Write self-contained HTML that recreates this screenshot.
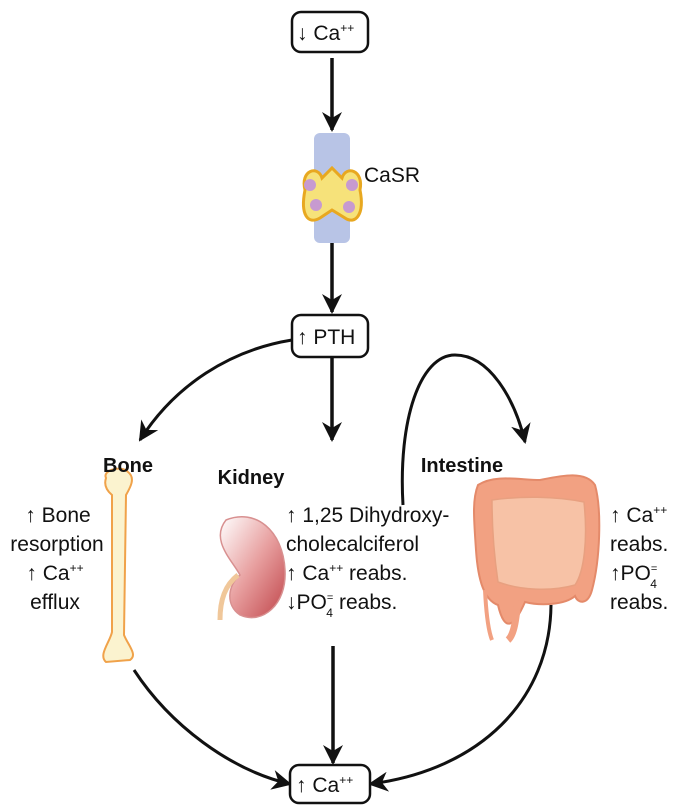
<!DOCTYPE html>
<html><head><meta charset="utf-8"><style>
html,body{margin:0;padding:0;background:#fff}
svg{display:block}
text{font-family:"Liberation Sans",sans-serif;fill:#111}
</style></head><body>
<svg width="685" height="812" viewBox="0 0 685 812" xmlns="http://www.w3.org/2000/svg">
<defs>
<marker id="ah" viewBox="0 0 20 20" refX="18" refY="10" markerWidth="20" markerHeight="20" markerUnits="userSpaceOnUse" orient="auto">
<path d="M0,0 L20,10 L0,20 L6,10 Z" fill="#111"/>
</marker>
<linearGradient id="kid" x1="0" y1="0" x2="1" y2="1"><stop offset="0" stop-color="#fff"/><stop offset="0.5" stop-color="#e8a0a0"/><stop offset="1" stop-color="#c0454a"/></linearGradient>
</defs>
<g fill="none" stroke="#111" stroke-width="3">
<line x1="332" y1="58" x2="332" y2="130" marker-end="url(#ah)" stroke-width="3.5"/>
<line x1="332" y1="243" x2="332" y2="312" marker-end="url(#ah)" stroke-width="3.5"/>
<line x1="332" y1="358" x2="332" y2="440" marker-end="url(#ah)" stroke-width="3.5"/>
<path d="M292,340 C230,350 175,385 140,440" marker-end="url(#ah)"/>
<path d="M403,505 C398,420 420,355 455,355 C490,355 515,400 525,442" marker-end="url(#ah)"/>
<line x1="333" y1="646" x2="333" y2="763" marker-end="url(#ah)" stroke-width="3.5"/>
<path d="M134,670 C170,725 230,770 290,784" marker-end="url(#ah)"/>
<path d="M551,605 C550,700 480,770 370,784" marker-end="url(#ah)"/>
</g>
<rect x="292" y="12" width="76" height="40" rx="9" fill="#fff" stroke="#111" stroke-width="2.5"/>
<text x="297" y="40" font-size="21">↓ Ca<tspan font-size="12" dy="-8">++</tspan></text>
<rect x="292" y="315" width="76" height="42" rx="9" fill="#fff" stroke="#111" stroke-width="2.5"/>
<text x="297" y="344" font-size="21">↑ PTH</text>
<rect x="290" y="765" width="80" height="38" rx="9" fill="#fff" stroke="#111" stroke-width="2.5"/>
<text x="296" y="792" font-size="21">↑ Ca<tspan font-size="12" dy="-8">++</tspan></text>
<!-- thyroid -->
<rect x="314" y="133" width="36" height="110" rx="6" fill="#b8c4e6"/>
<path d="M305,190 C300,170 318,165 322,178 L332,168 L342,178 C346,165 364,170 360,190 C365,215 355,225 345,218 L332,210 L320,218 C308,225 300,215 305,190 Z" fill="#f6e27a" stroke="#e8a820" stroke-width="3"/>
<circle cx="310" cy="185" r="6" fill="#c79ad0"/><circle cx="352" cy="185" r="6" fill="#c79ad0"/>
<circle cx="316" cy="205" r="6" fill="#c79ad0"/><circle cx="349" cy="207" r="6" fill="#c79ad0"/>
<text x="364" y="182" font-size="21">CaSR</text>
<!-- bone -->
<path d="M106,478 C102,470 122,465 128,472 C136,478 130,488 126,495 L124,635 C128,645 138,655 130,660 L106,662 C98,655 110,642 112,632 L112,495 C106,490 104,484 106,478 Z" fill="#fbf3cf" stroke="#f0a24a" stroke-width="2"/>
<text x="128" y="472" font-size="20" font-weight="bold" text-anchor="middle">Bone</text>
<g font-size="21" text-anchor="middle">
<text x="58" y="522">↑ Bone</text>
<text x="57" y="551">resorption</text>
<text x="55" y="580">↑ Ca<tspan font-size="12" dy="-8">++</tspan></text>
<text x="55" y="609">efflux</text>
</g>
<!-- kidney -->
<path d="M226,520 C255,508 283,530 285,570 C287,605 262,625 240,615 C225,605 228,585 240,575 C232,560 210,540 226,520 Z" fill="url(#kid)" stroke="#d89090" stroke-width="1.5"/>
<path d="M238,575 C225,585 220,600 220,620" stroke="#f0c79a" stroke-width="5" fill="none"/>
<text x="251" y="484" font-size="20" font-weight="bold" text-anchor="middle">Kidney</text>
<!-- intestine -->
<path d="M478,485 C495,474 520,480 540,480 C560,476 585,470 595,485 C602,510 600,560 592,590 C588,605 578,604 575,596 C565,605 540,606 525,602 C515,625 505,635 498,605 C484,600 478,580 476,550 C474,520 472,500 478,485 Z" fill="#f2a182" stroke="#e48a6a" stroke-width="2"/>
<path d="M492,500 C520,496 555,496 584,502 C588,540 584,572 575,585 C550,592 520,590 498,582 C494,555 492,525 492,500 Z" fill="#f7c2a6" stroke="#e8a080" stroke-width="1.5"/>
<path d="M518,600 C516,620 514,635 508,640" stroke="#f2a182" stroke-width="7" fill="none"/>
<path d="M485,590 C486,610 488,630 492,640" stroke="#f2a182" stroke-width="4" fill="none"/>
<g font-size="21">
<text x="286" y="522">↑ 1,25 Dihydroxy-</text>
<text x="286" y="551">cholecalciferol</text>
<text x="286" y="580">↑ Ca<tspan font-size="12" dy="-8">++</tspan><tspan dy="8"> reabs.</tspan></text>
<text x="286" y="609">↓PO<tspan font-size="11" dy="-8">=</tspan><tspan font-size="12" dx="-7" dy="16">4</tspan><tspan dy="-8" dx="6">reabs.</tspan></text>
</g>
<text x="462" y="472" font-size="20" font-weight="bold" text-anchor="middle">Intestine</text>
<g font-size="21">
<text x="610" y="522">↑ Ca<tspan font-size="12" dy="-8">++</tspan></text>
<text x="610" y="551">reabs.</text>
<text x="610" y="580">↑PO<tspan font-size="11" dy="-8">=</tspan><tspan font-size="12" dx="-7" dy="16">4</tspan></text>
<text x="610" y="609">reabs.</text>
</g>
</svg>
</body></html>
